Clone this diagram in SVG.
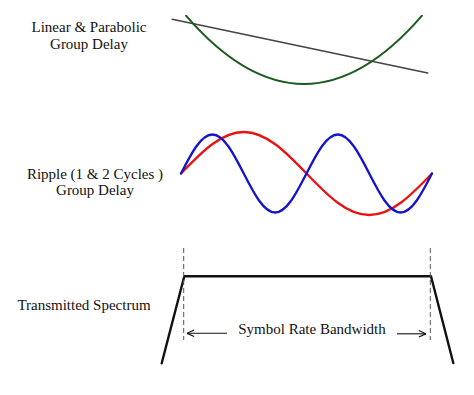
<svg xmlns="http://www.w3.org/2000/svg" width="474" height="395" viewBox="0 0 474 395">
<style>
text{font-family:"Liberation Serif","Times New Roman",serif;font-size:15px;fill:#111;text-anchor:middle}
.c{fill:none;stroke-linecap:round;stroke-linejoin:round}
.dash{stroke:#555;stroke-width:1;stroke-dasharray:5,3;fill:none}
.arr{stroke:#111;stroke-width:1.1;fill:none}
</style>
<defs>
<marker id="ah" viewBox="0 0 10 10" refX="10" refY="5" markerWidth="8" markerHeight="8" markerUnits="userSpaceOnUse" orient="auto">
<path d="M1,1 L10,5 L1,9" fill="none" stroke="#111" stroke-width="1.4"/>
</marker>
</defs>
<rect width="474" height="395" fill="#fff"/>
<g id="label-linear">
<text x="89" y="32">Linear &amp; Parabolic</text>
<text x="89" y="49">Group Delay</text>
</g>
<g id="label-ripple">
<text x="95" y="179">Ripple (1 &amp; 2 Cycles )</text>
<text x="95" y="195">Group Delay</text>
</g>
<g id="label-spectrum">
<text x="84" y="310">Transmitted Spectrum</text>
</g>
<g id="linear">
<path class="c" d="M172.3,19.3 L427.7,73" stroke="#444" stroke-width="1.6"/>
</g>
<g id="parabolic">
<path class="c" d="M186,15.7 Q304,152.3 422,15.7" stroke="#1d5a1d" stroke-width="2"/>
</g>
<g id="ripple-1">
<path class="c" d="M181,173.5 C201.46,152.24 221.04,132 243.75,132 S286.04,152.24 306.5,173.5 S346.54,215 369.25,215 S411.54,194.76 432,173.5" stroke="#e81414" stroke-width="2.3"/>
</g>
<g id="ripple-2">
<path class="c" d="M181,173.5 C191.23,153.52 201.02,134.5 212.38,134.5 S233.52,153.52 243.75,173.5 S263.77,212.5 275.13,212.5 S296.27,193.48 306.5,173.5 S326.52,134.5 337.88,134.5 S359.02,153.52 369.25,173.5 S389.27,212.5 400.63,212.5 S421.77,193.48 432,173.5" stroke="#1414cc" stroke-width="2.3"/>
</g>
<g id="spectrum">
<path class="c" d="M161.7,363.3 L184.3,276.3 L431,276.3 L453.3,363" stroke="#111" stroke-width="2.4"/>
</g>
<g id="connectors">
<line class="dash" x1="183.7" y1="248" x2="183.7" y2="340"/>
<line class="dash" x1="430.3" y1="248" x2="430.3" y2="340"/>
<line class="arr" x1="227" y1="333.3" x2="187" y2="333.3" marker-end="url(#ah)"/>
<line class="arr" x1="397" y1="333.8" x2="426" y2="333.8" marker-end="url(#ah)"/>
<text x="312" y="334">Symbol Rate Bandwidth</text>
</g>
</svg>
